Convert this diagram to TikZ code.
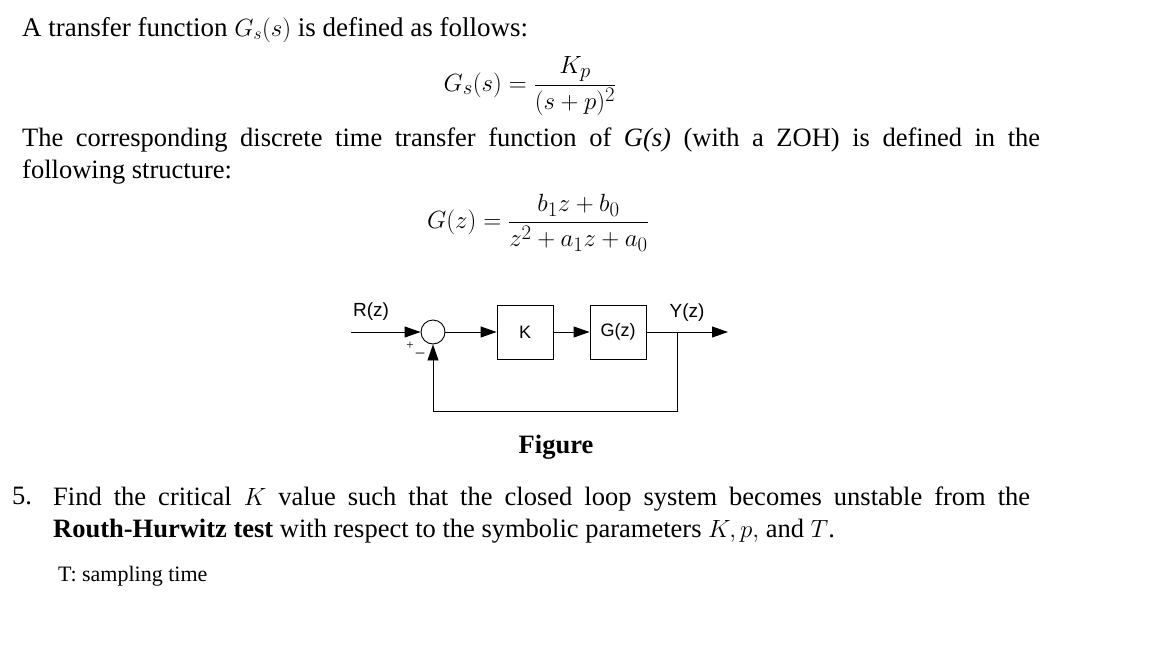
\documentclass[tikz,border=0pt]{standalone}
\usepackage{amsmath}
\usepackage{fontspec}
\setmainfont{Liberation Serif}
\setsansfont{Liberation Sans}
\usetikzlibrary{arrows.meta}
\tikzset{
  blk/.style={draw,line width=0.9pt,minimum width=56pt,minimum height=54pt,font=\sffamily\fontsize{18}{20}\selectfont},
  sig/.style={line width=0.9pt},
  arr/.style={sig,-{Triangle[length=16pt,width=11pt]}},
  txt/.style={anchor=north west,inner sep=0pt,font=\fontsize{26.5}{32}\selectfont},
  lbl/.style={font=\sffamily\fontsize{19}{20}\selectfont,inner sep=0pt}
}
\begin{document}
\begin{tikzpicture}[x=1pt,y=-1pt]
\useasboundingbox (0,0) rectangle (1168,646);
\node[txt,font=\fontsize{27}{32}\selectfont] (l1) at (22,17) {A transfer function $G_s(s)$ is defined as follows:};
\node[inner sep=0pt,font=\fontsize{30}{34}\selectfont] (e1) at (530,86) {$G_s(s)=\dfrac{K_p}{(s+p)^2}$};
\node[txt,text width=1018pt,align=justify] (l2) at (22,128) {The corresponding discrete time transfer function of \textit{G(s)} (with a ZOH) is defined in the\linebreak following structure:};
\node[inner sep=0pt,font=\fontsize{30}{34}\selectfont] (e2) at (538,223) {$G(z)=\dfrac{b_1z+b_0}{z^2+a_1z+a_0}$};

\node[draw,circle,line width=0.9pt,minimum size=24pt,inner sep=0pt] (sum) at (433,332) {};
\node[blk] (k) at (525,332) {K};
\node[blk] (g) at (618,332) {G(z)};
\coordinate (in) at (351,332);
\coordinate (br) at (677,332);
\coordinate (out) at (728,332);
\coordinate (fb) at (677,411);
\coordinate (fb2) at (433,411);
\draw[arr] (in) -- (sum);
\draw[arr] (sum) -- (k);
\draw[arr] (k) -- (g);
\draw[arr] (g) -- (out);
\draw[sig] (br) -- (fb) -- (fb2);
\draw[arr] (fb2) -- (sum);
\node[lbl] (rz) at (371,312) {R(z)};
\node[lbl] (yz) at (687,313) {Y(z)};
\node[inner sep=0pt,font=\fontsize{13}{13}\selectfont] (plus) at (410,346) {+};
\node[inner sep=0pt,font=\fontsize{17}{17}\selectfont] (minus) at (420,355) {--};

\node[inner sep=0pt,font=\bfseries\fontsize{26.5}{32}\selectfont] (fig) at (556,447) {Figure};
\node[txt] (n5) at (12,487) {5.};
\node[txt,text width=977pt,align=justify] (q5) at (53,487) {Find the critical $K$ value such that the closed loop system becomes unstable from the\linebreak \textbf{Routh-Hurwitz test} with respect to the symbolic parameters $K,p,$ and $T$.};
\node[txt,font=\fontsize{22}{26}\selectfont] (ts) at (58,566) {T: sampling time};
\end{tikzpicture}
\end{document}
